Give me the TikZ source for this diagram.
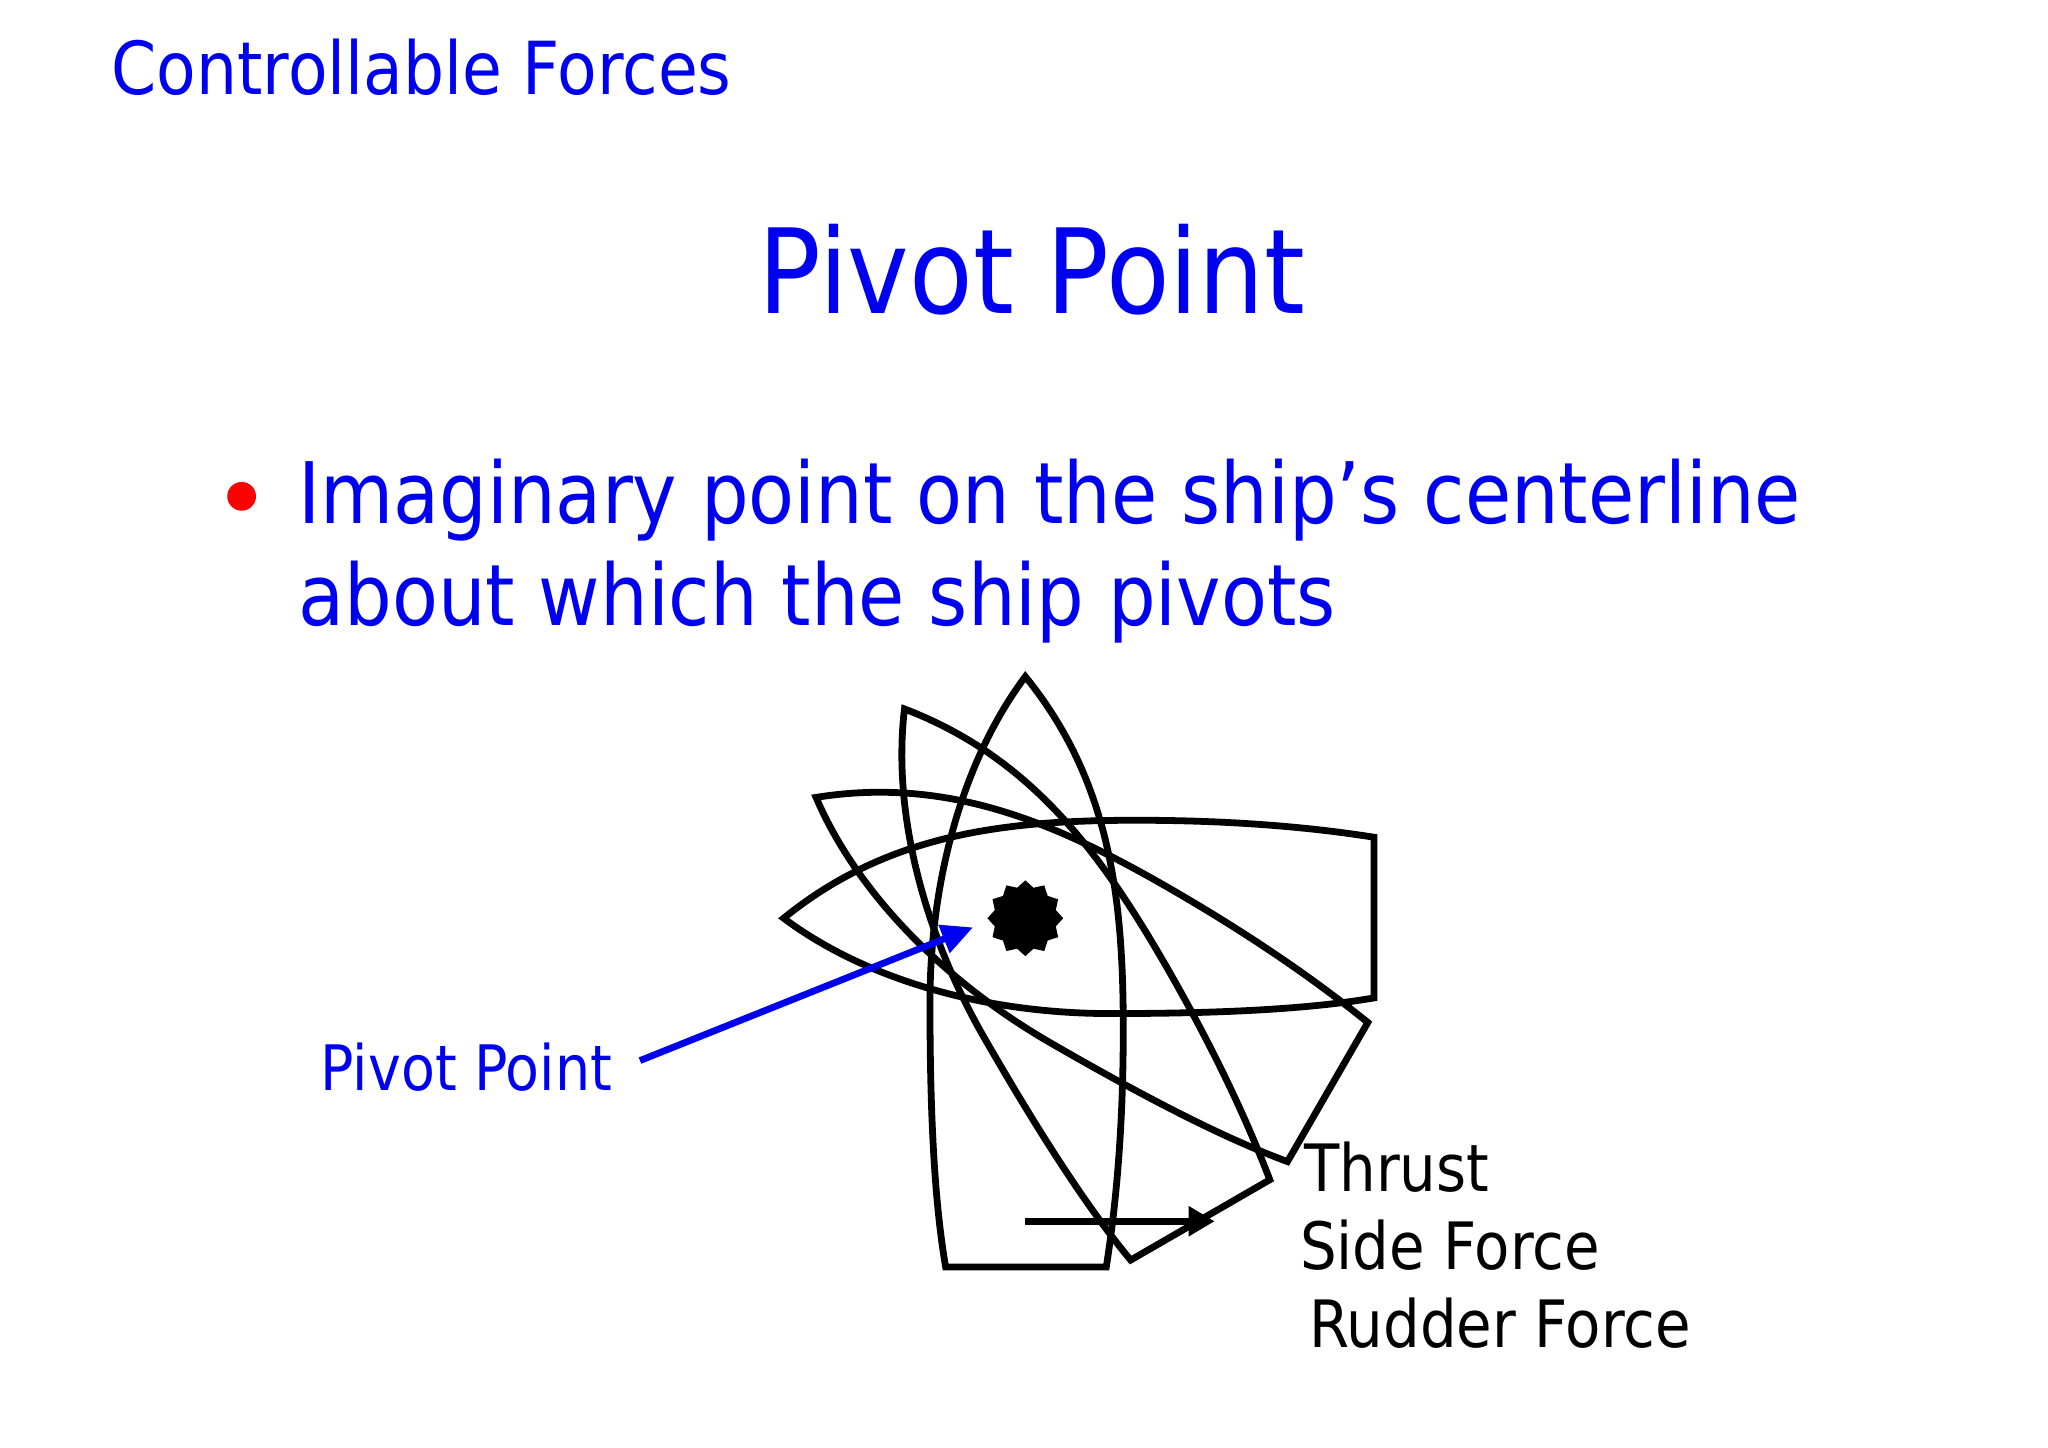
\documentclass[tikz,border=0pt]{standalone}
\usepackage{fontspec}
\setmainfont[FakeStretch=0.885]{DejaVu Sans}
\usetikzlibrary{shapes.geometric,arrows.meta}
\definecolor{tblue}{RGB}{0,0,240}
\tikzset{
  hull/.style={line width=2.6pt, line join=miter},
  lbl/.style={anchor=base west, inner sep=0pt},
}
\newcommand{\shipat}[1]{%
\begin{scope}[shift={(392.5pt,-351.5pt)}, x={({0.5*cos(#1)*1pt},{-0.5*sin(#1)*1pt})}, y={({-0.5*sin(#1)*1pt},{-0.5*cos(#1)*1pt})}]
\draw[hull] (-185,0) .. controls (-105,-65) and (-15,-75) .. (85,-75)
  .. controls (175,-75) and (235,-67) .. (267,-62) -- (267,61)
  .. controls (215,70) and (145,73) .. (65,73)
  .. controls (-35,73) and (-125,45) .. cycle;
\end{scope}}
\begin{document}
\begin{tikzpicture}[x=0.5pt,y=-0.5pt]
\useasboundingbox (0,0) rectangle (1568,1108);
\node[lbl, text=tblue, font=\fontsize{28pt}{32pt}\selectfont] (hdr) at (85,72) {Controllable Forces};
\node[text=tblue, font=\fontsize{45pt}{50pt}\selectfont, anchor=base] (title) at (790,240) {Pivot Point};
\node[circle, fill=red, inner sep=0pt, minimum size=11pt] (bul) at (185,380) {};
\node[lbl, text=tblue, font=\fontsize{32.5pt}{39pt}\selectfont] (l1) at (228,401) {Imaginary point on the ship’s centerline};
\node[lbl, text=tblue, font=\fontsize{32.5pt}{39pt}\selectfont] (l2) at (228,479) {about which the ship pivots};
\shipat{0}
\shipat{30}
\shipat{60}
\shipat{90}
\node[star, star points=12, star point ratio=1.2, fill=black, minimum size=29pt, inner sep=0pt] (pp) at (785,703) {};
\node[lbl, text=tblue, font=\fontsize{24pt}{28pt}\selectfont] (pl) at (245,835) {Pivot Point};
\coordinate (pa) at (490,812);
\coordinate (pb) at (745,710);
\draw[tblue, line width=2.6pt, -{Triangle[length=12pt,width=11pt]}] (pa) -- (pb);
\coordinate (ta) at (785,935);
\coordinate (tb) at (930,935);
\draw[black, line width=2.6pt, -{Triangle[length=10pt,width=11pt]}] (ta) -- (tb);
\node[lbl, font=\fontsize{25pt}{29pt}\selectfont] (t1) at (998,912) {Thrust};
\node[lbl, font=\fontsize{25pt}{29pt}\selectfont] (t2) at (995,972) {Side Force};
\node[lbl, font=\fontsize{25pt}{29pt}\selectfont] (t3) at (1002,1032) {Rudder Force};
\end{tikzpicture}
\end{document}
